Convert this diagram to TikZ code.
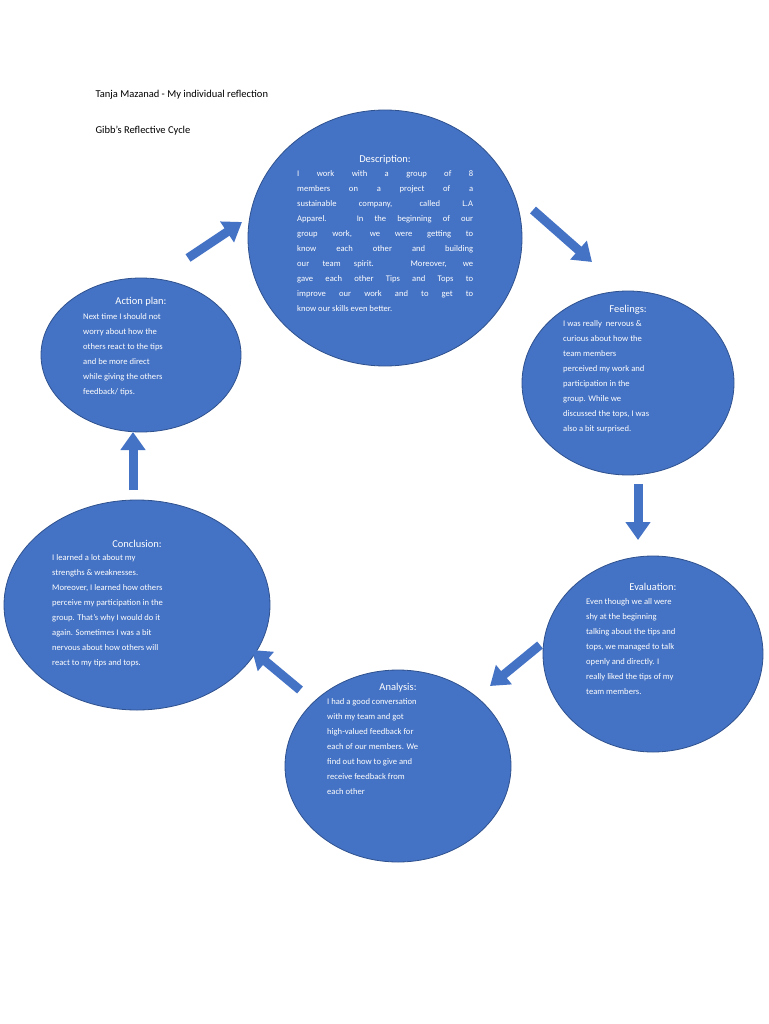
\documentclass[tikz,border=0pt]{standalone}
\usepackage{fontspec}
\setmainfont{Carlito}
\usetikzlibrary{arrows.meta}
\definecolor{cfill}{HTML}{4472C4}
\definecolor{cedge}{HTML}{2F528F}
\tikzset{
  circ/.style={ellipse,draw=cedge,fill=cfill,line width=0.8pt},
  ttl/.style={text=white,font=\fontsize{10.5}{12}\selectfont},
  body/.style={text=white,font=\fontsize{8.6}{15}\selectfont,align=left,anchor=north west,inner sep=0pt},
  blk/.style={draw=cfill,line width=9pt,-{Triangle[width=24pt,length=18pt]},shorten >=0pt},
}
\usetikzlibrary{shapes.geometric}
\newcommand{\jl}[1]{\makebox[176pt][s]{#1}}
\begin{document}
\begin{tikzpicture}[x=1pt,y=-1pt]
\useasboundingbox (0,0) rectangle (768,1024);
\fill[white] (0,0) rectangle (768,1024);
\node[anchor=west,font=\fontsize{10.5}{12}\selectfont] (h1) at (92,95) {Tanja Mazanad - My individual reflection};
\node[anchor=west,font=\fontsize{10.5}{12}\selectfont] (h2) at (92,131) {Gibb’s Reflective Cycle};

\node[circ,minimum width=274pt,minimum height=256pt] (desc) at (385,238) {};
\node[circ,minimum width=212pt,minimum height=184pt] (feel) at (628,383) {};
\node[circ,minimum width=220pt,minimum height=196pt] (eval) at (653,654) {};
\node[circ,minimum width=226pt,minimum height=192pt] (anal) at (398,766) {};
\node[circ,minimum width=266pt,minimum height=210pt] (conc) at (137,605) {};
\node[circ,minimum width=200pt,minimum height=154pt] (act) at (141,355) {};

\node[ttl] (dt) at (385,160) {Description:};
\node[body] (db) at (297,170) {\jl{I work with a group of 8}\\\jl{members on a project of a}\\\jl{sustainable company, called L.A}\\\jl{Apparel. In the beginning of our}\\\jl{group work, we were getting to}\\\jl{know each other and building}\\\jl{our team spirit. Moreover, we}\\\jl{gave each other Tips and Tops to}\\\jl{improve our work and to get to}\\know our skills even better.};

\node[ttl] (ft) at (628,310) {Feelings:};
\node[body] (fb) at (563,320) {I was really\ \ nervous \&\\curious about how the\\team members\\perceived my work and\\participation in the\\group. While we\\discussed the tops, I was\\also a bit surprised.};

\node[ttl] (et) at (653,587) {Evaluation:};
\node[body] (eb) at (586,598) {Even though we all were\\shy at the beginning\\talking about the tips and\\tops, we managed to talk\\openly and directly. I\\really liked the tips of my\\team members.};

\node[ttl] (at) at (398,688) {Analysis:};
\node[body] (ab) at (327,698) {I had a good conversation\\with my team and got\\high-valued feedback for\\each of our members. We\\find out how to give and\\receive feedback from\\each other};

\node[ttl] (ct) at (137,544) {Conclusion:};
\node[body] (cb) at (52,554) {I learned a lot about my\\strengths \& weaknesses.\\Moreover, I learned how others\\perceive my participation in the\\group. That’s why I would do it\\again. Sometimes I was a bit\\nervous about how others will\\react to my tips and tops.};

\node[ttl] (pt) at (141,302) {Action plan:};
\node[body] (pb) at (83,313) {Next time I should not\\worry about how the\\others react to the tips\\and be more direct\\while giving the others\\feedback/ tips.};

\coordinate (a1s) at (188,258); \coordinate (a1e) at (242,222);
\coordinate (a2s) at (533,210); \coordinate (a2e) at (592,262);
\coordinate (a3s) at (638,484); \coordinate (a3e) at (638,540);
\coordinate (a4s) at (540,645); \coordinate (a4e) at (490,686);
\coordinate (a5s) at (300,690); \coordinate (a5e) at (252,650);
\coordinate (a6s) at (133,490); \coordinate (a6e) at (133,432);
\foreach \i in {1,...,6}{\draw[blk] (a\i s) -- (a\i e);}
\end{tikzpicture}
\end{document}
